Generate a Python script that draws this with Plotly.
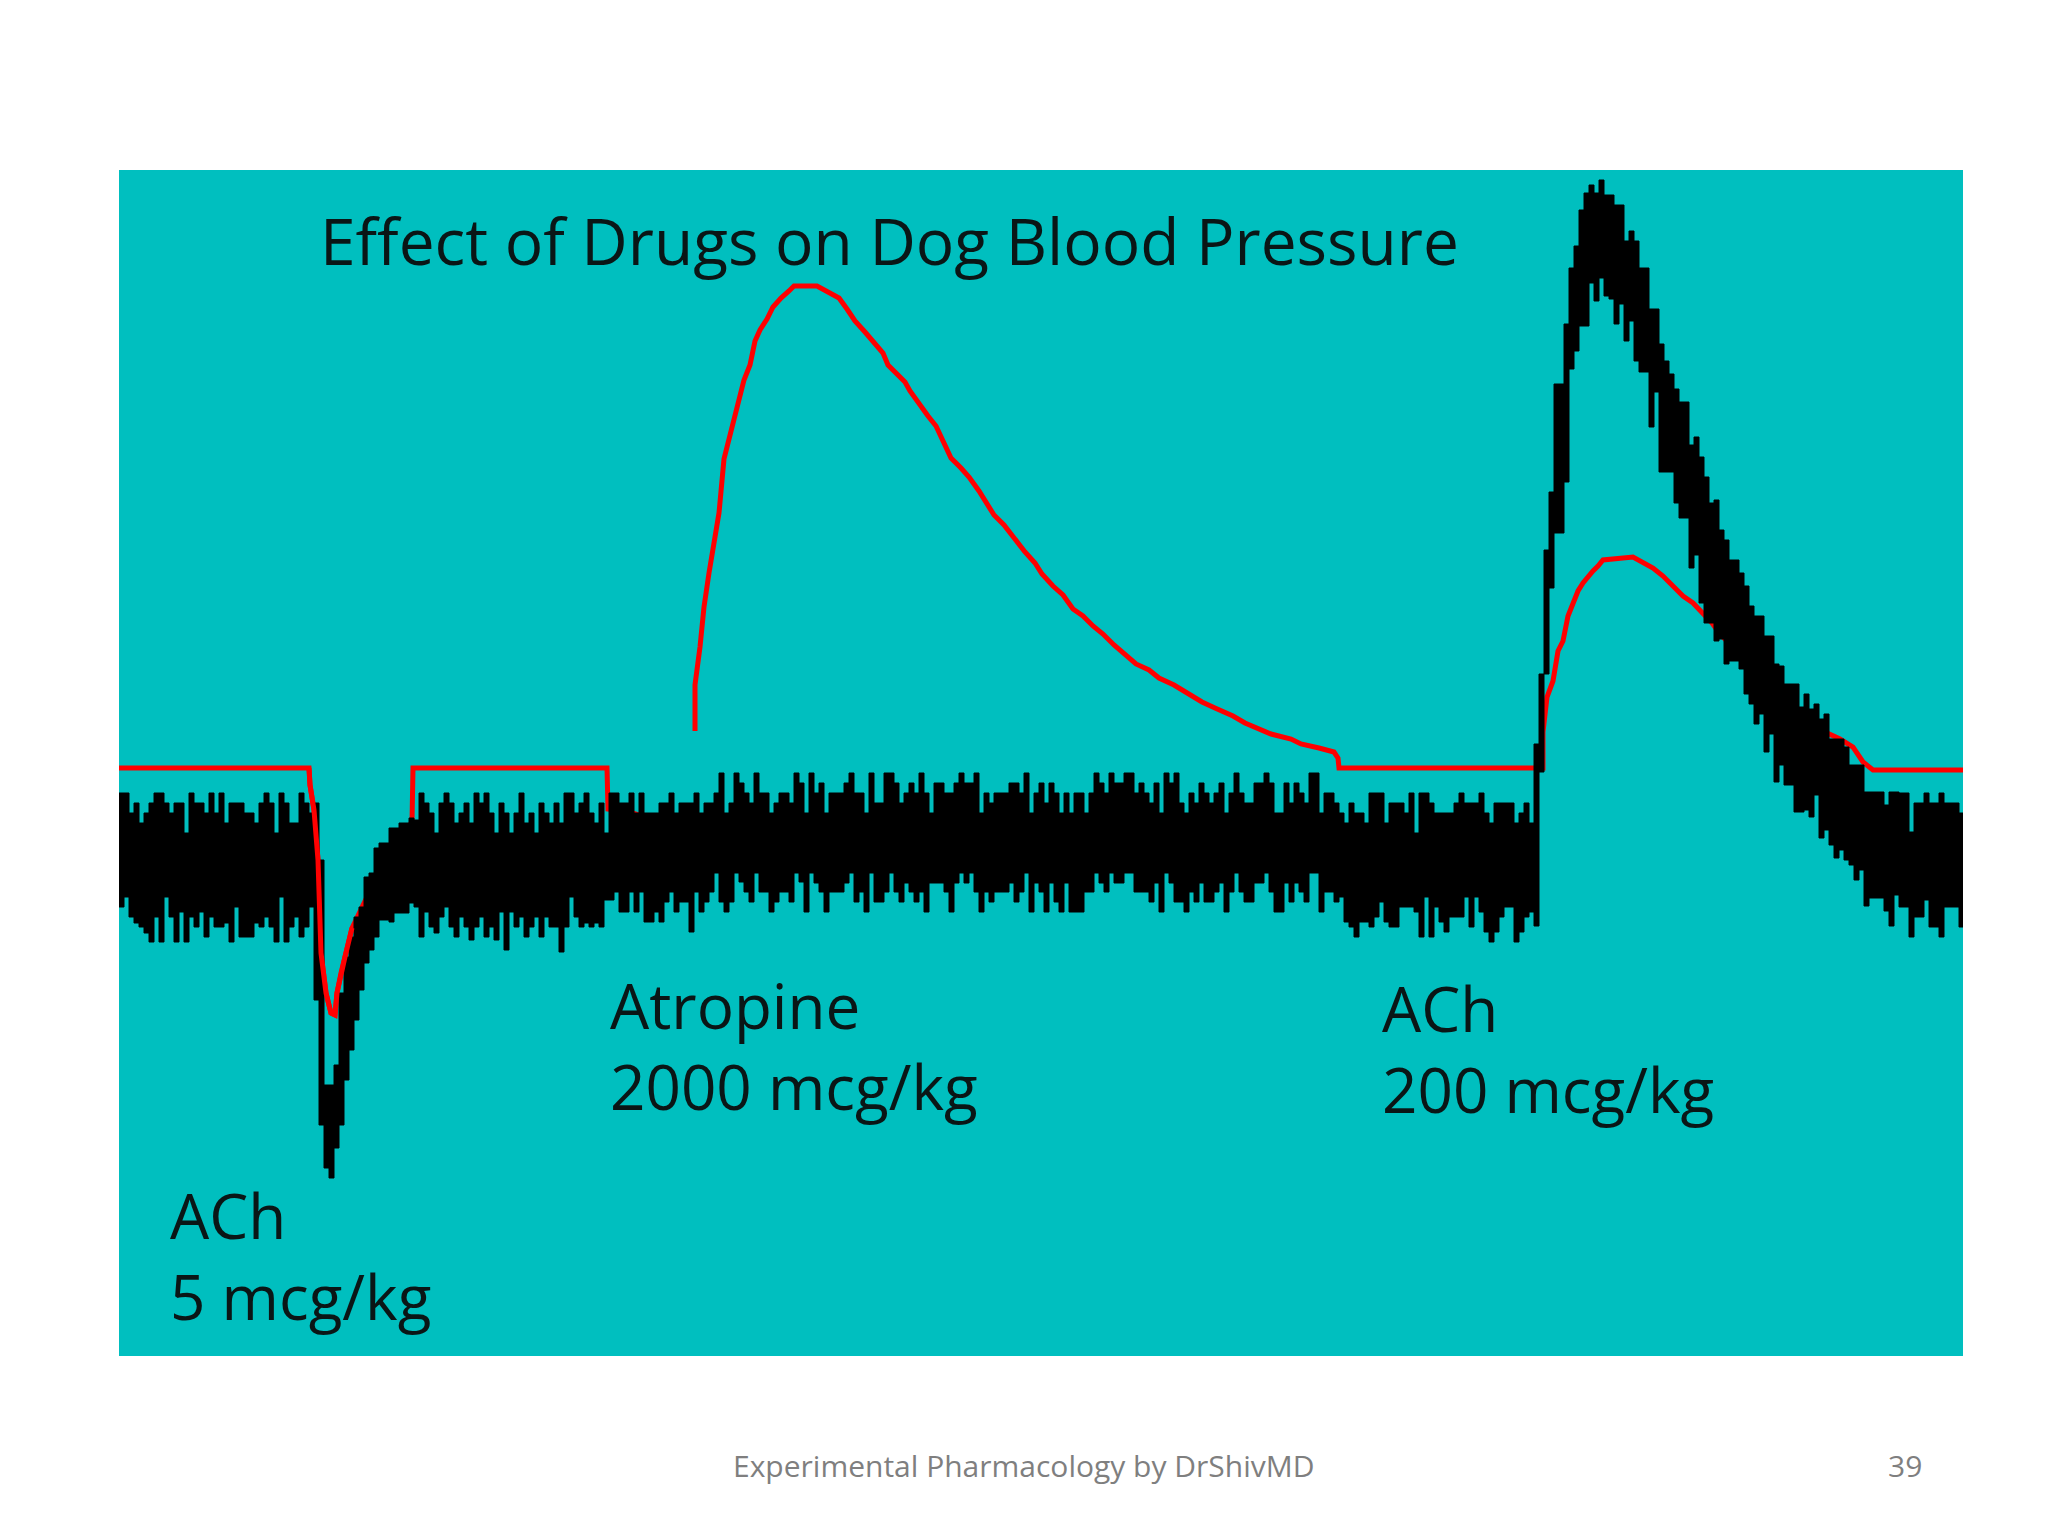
import plotly.graph_objects as go

# ---------------- data (x = time samples, y = pen position) ----------------
# Black BP trace, sampled every 5 units from t=119; upper and lower envelope of the pulse band.
bp_start = 119
bp_step = 5

bp_upper = (
    # baseline before ACh 5 mcg/kg
    [793, 793, 813, 803, 823, 813, 803, 793, 793, 803, 813, 803, 803, 833, 793, 803, 803, 813, 793, 813,
     793, 823, 803, 803, 803, 813, 813, 823, 803, 793, 803, 833, 793, 803, 823, 823, 793, 803, 813]
    # ACh 5 mcg/kg dip
    + [803, 860, 1085, 1085, 1065, 993, 957, 937, 917, 907, 877, 873, 848, 843, 843, 828, 828, 823, 823, 818]
    # recovery
    + [820, 793, 803, 813, 833, 803, 793, 803, 823, 813, 803, 823, 793, 803, 793, 813, 833, 803, 813, 833,
       813, 793, 823, 813, 833, 803, 813, 823, 803, 823, 793, 793, 813, 803, 793, 813, 823, 803, 833, 793]
    # after atropine
    + [793, 803, 803, 793, 813, 793, 813, 813, 813, 803, 803, 793, 813, 803, 803, 803, 793, 813, 803, 803,
       793, 773, 813, 803, 773, 783, 793, 803, 773, 793, 793, 813, 803, 793, 793, 803, 773, 783, 813, 773,
       793, 783, 813, 793, 793, 793, 783, 773, 793, 793, 813, 773, 803, 803, 773, 773, 783, 803, 793, 783,
       793, 773, 793, 813, 783, 783, 793, 793, 783, 773, 783, 783, 773, 813, 793, 803, 793, 793, 793, 783,
       783, 793, 773, 813, 793, 783, 803, 783, 793, 813, 793, 813, 793, 793, 813, 793, 773]
    + [783, 793, 773, 783, 783, 773, 773, 793, 783, 793, 803, 783, 813, 773, 783, 773, 803, 813, 793, 803,
       783, 793, 803, 793, 783, 813, 793, 773, 793, 803, 803, 783, 783, 773, 783, 813, 813, 783, 803, 783,
       793, 803, 773, 773, 813, 793, 793, 803, 813, 823, 803, 813, 813, 823, 793, 793, 793, 823, 803, 803,
       803, 813, 793, 833, 793, 793, 803, 813, 813, 813, 813, 803, 793, 803, 803, 803, 793, 813, 823, 803,
       803, 803, 803, 823, 813, 803, 823]
    # ACh 200 mcg/kg rise
    + [744, 674, 550, 492, 384, 384, 324, 268, 246, 210, 193, 185, 193, 180, 195, 195, 205, 205, 241, 231,
       241, 268, 268, 309, 309, 344, 361, 374, 389, 402, 402, 445, 437, 457, 477, 503, 500, 530, 540, 560,
       560, 573, 586, 606, 616, 616, 636, 636, 664, 666, 684, 684, 684, 707, 694, 709, 704, 719, 714, 739,
       739, 739, 747, 765, 765, 765, 792, 792, 792, 792, 805, 792, 792]
    + [793, 793, 832, 803, 803, 793, 803, 803, 793, 803, 803, 803, 813, 813]
)

bp_lower = (
    [907, 897, 917, 923, 927, 933, 942, 917, 942, 897, 917, 942, 912, 942, 917, 927, 912, 937, 917, 927,
     927, 923, 942, 907, 937, 937, 937, 923, 927, 917, 927, 942, 897, 942, 927, 917, 937, 927, 907]
    + [1000, 1125, 1168, 1178, 1148, 1125, 1080, 1050, 1020, 990, 963, 950, 937, 920, 920, 922, 913, 913, 913, 903]
    + [907, 937, 912, 927, 933, 917, 907, 927, 937, 917, 927, 940, 927, 917, 937, 927, 940, 912, 950, 912,
       927, 917, 937, 927, 917, 937, 917, 927, 927, 952, 927, 897, 917, 927, 923, 927, 923, 927, 900, 900]
    + [892, 912, 912, 892, 912, 892, 922, 922, 912, 922, 902, 892, 912, 902, 902, 932, 892, 912, 902, 892,
       873, 902, 912, 902, 873, 882, 892, 902, 873, 892, 892, 912, 902, 892, 892, 902, 873, 882, 912, 873,
       883, 892, 912, 892, 892, 892, 883, 873, 902, 892, 912, 873, 902, 902, 892, 873, 892, 902, 883, 892,
       902, 892, 912, 883, 883, 883, 892, 912, 883, 873, 883, 873, 892, 912, 892, 902, 892, 892, 892, 883,
       902, 892, 873, 912, 883, 892, 912, 883, 902, 912, 883, 912, 912, 912, 892, 892, 873]
    + [883, 892, 873, 883, 883, 873, 873, 892, 892, 892, 902, 883, 912, 873, 883, 902, 902, 912, 892, 902,
       883, 902, 902, 892, 883, 912, 892, 873, 892, 902, 902, 883, 883, 873, 892, 912, 912, 883, 902, 883,
       892, 902, 873, 873, 912, 892, 892, 902, 897, 922, 927, 937, 922, 922, 927, 917, 902, 922, 927, 927,
       907, 907, 907, 912, 937, 897, 937, 907, 922, 932, 917, 917, 917, 897, 927, 897, 912, 932, 942, 932,
       917, 907, 907, 942, 932, 917, 912]
    + [926, 772, 674, 588, 533, 533, 482, 369, 351, 326, 326, 283, 301, 278, 296, 299, 324, 304, 341, 321,
       361, 372, 372, 427, 392, 472, 472, 472, 503, 518, 518, 568, 555, 603, 623, 623, 641, 639, 664, 661,
       661, 669, 694, 704, 724, 714, 752, 734, 782, 765, 785, 785, 812, 812, 810, 817, 795, 838, 830, 845,
       858, 850, 860, 865, 880, 870, 906, 898, 898, 898, 911, 926, 895]
    + [907, 907, 937, 917, 917, 900, 927, 927, 937, 907, 907, 907, 927, 927]
)
bp_time = [bp_start + bp_step * i for i in range(len(bp_upper))]

# Red (mean pressure) pen; None = pen lifted
red_t = [119, 309, 310, 314, 318, 321, 326, 331, 335, 337, 341, 345, 352, 380, 412, 413, 607, 608, 630, 650, 690,
         None,
         695, 695, 700, 704, 709, 714, 719, 724, 729, 734, 739, 744, 750, 755, 760, 767, 773, 781, 789, 794,
         817, 827, 839, 847, 855, 865, 875, 883, 888, 895, 905, 910, 918, 928, 936, 946, 951, 961, 969, 979,
         987, 994, 1004, 1015, 1025, 1035, 1042, 1053, 1063, 1073, 1083, 1093, 1103, 1114, 1126, 1136, 1149,
         1159, 1174, 1190, 1202, 1215, 1233, 1245, 1261, 1271, 1291, 1301, 1319, 1334, 1338, 1339, 1543,
         1543, 1547, 1553, 1558, 1563, 1568, 1573, 1578, 1583, 1588, 1593, 1598, 1603, 1633, 1643, 1653,
         1663, 1673, 1683, 1693, 1703, 1712, 1720, 1795, 1800, 1815, 1825, 1840, 1853, 1863, 1873, 1963]
red_p = [768, 768, 785, 810, 860, 953, 993, 1013, 1015, 993, 973, 957, 928, 870, 822, 768, 768, 809, 812, 819, 819,
         None,
         731, 685, 647, 607, 573, 542, 513, 459, 439, 418, 399, 380, 365, 341, 330, 319, 307, 298, 291, 286,
         286, 292, 298, 309, 321, 332, 344, 353, 365, 372, 382, 391, 403, 416, 426, 447, 458, 468, 477, 491,
         504, 515, 525, 540, 552, 563, 574, 586, 595, 609, 616, 626, 634, 645, 655, 664, 670,
         678, 685, 695, 702, 708, 716, 723, 729, 734, 739, 744, 748, 752, 758, 768, 768,
         732, 697, 681, 651, 641, 616, 603, 591, 583, 576, 571, 566, 560, 557, 563, 568,
         576, 586, 596, 603, 613, 623, 634, 709, 717, 724, 732, 739, 747, 762, 770, 770]

title_text = "Effect of Drugs on Dog Blood Pressure"
labels = [
    ("Atropine<br>2000 mcg/kg", 608, 1045),
    ("ACh<br>200 mcg/kg", 1380, 1048),
    ("ACh<br>5 mcg/kg", 168, 1255),
]
footer_text = "Experimental Pharmacology by DrShivMD"
page_number = "39"

# ---------------- figure ----------------
CYAN = "#00BFBF"
INK = "#0a1616"
fig = go.Figure()

fig.add_trace(go.Scatter(x=red_t, y=red_p, mode="lines",
                         line=dict(color="#FF0000", width=5), connectgaps=False,
                         hoverinfo="skip", showlegend=False))
fig.add_trace(go.Scatter(x=bp_time, y=bp_upper, mode="lines",
                         line=dict(color="black", width=1, shape="hv"),
                         hoverinfo="skip", showlegend=False))
fig.add_trace(go.Scatter(x=bp_time, y=bp_lower, mode="lines", fill="tonexty",
                         fillcolor="black",
                         line=dict(color="black", width=1, shape="hv"),
                         hoverinfo="skip", showlegend=False))
# the ACh 5 mcg/kg part of the red pen lies over the black trace
fig.add_trace(go.Scatter(x=red_t[1:13], y=red_p[1:13], mode="lines",
                         line=dict(color="#FF0000", width=5),
                         hoverinfo="skip", showlegend=False))

annotations = [dict(text=title_text, x=318, y=240, xref="x", yref="y",
                    xanchor="left", yanchor="middle", showarrow=False,
                    font=dict(family="Open Sans", size=64, color=INK))]
for txt, x, y in labels:
    annotations.append(dict(text=txt, x=x, y=y, xref="x", yref="y",
                            xanchor="left", yanchor="middle", align="left",
                            showarrow=False,
                            font=dict(family="Open Sans", size=62, color=INK)))
annotations.append(dict(text=footer_text, x=1023 / 2048, y=(1536 - 1465) / 1536,
                        xref="paper", yref="paper", xanchor="center", yanchor="middle",
                        showarrow=False, font=dict(family="Open Sans", size=30, color="#7f7f7f")))
annotations.append(dict(text=page_number, x=1924 / 2048, y=(1536 - 1465) / 1536,
                        xref="paper", yref="paper", xanchor="right", yanchor="middle",
                        showarrow=False, font=dict(family="Open Sans", size=30, color="#7f7f7f")))

fig.update_layout(
    width=2048, height=1536,
    margin=dict(l=0, r=0, t=0, b=0),
    paper_bgcolor="white",
    plot_bgcolor=CYAN,
    showlegend=False,
    annotations=annotations,
    xaxis=dict(domain=[119 / 2048, 1963 / 2048], range=[119, 1963], visible=False,
               showgrid=False, zeroline=False, fixedrange=True),
    yaxis=dict(domain=[(1536 - 1356) / 1536, (1536 - 170) / 1536], range=[1356, 170],
               visible=False, showgrid=False, zeroline=False, fixedrange=True),
)

fig.write_html("out.html")
